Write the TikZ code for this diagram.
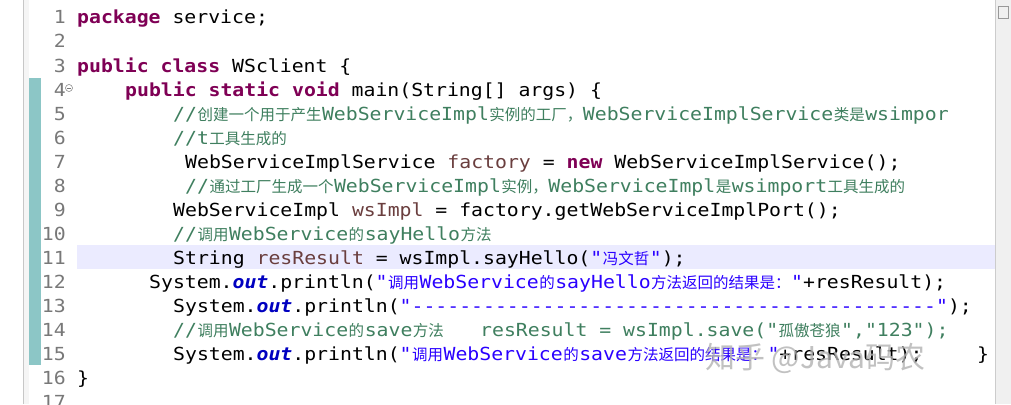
\documentclass[tikz,border=0pt]{standalone}
\usepackage{fontspec}
\usetikzlibrary{calc}
\newfontfamily\code[FakeStretch=1.1]{DejaVu Sans Mono}
\newfontfamily\cjk{Noto Sans CJK SC}
\definecolor{kw}{HTML}{7F0055}
\definecolor{cm}{HTML}{3F7F5F}
\definecolor{st}{HTML}{2A00FF}
\definecolor{fl}{HTML}{0000C0}
\definecolor{vr}{HTML}{6A3E3E}
\definecolor{lnc}{HTML}{787878}
\newcommand\zh[1]{{\cjk\fontsize{15.5}{16}\selectfont\hspace{0.5pt}#1\hspace{0.5pt}}}
\newcommand\kwd[1]{{\bfseries\color{kw}#1}}
\newcommand\cmt[1]{{\color{cm}#1}}
\newcommand\strg[1]{{\color{st}#1}}
\newcommand\fld[1]{{\bfseries\itshape\color{fl}#1}}
\newcommand\vr[1]{{\color{vr}#1}}
\begin{document}
\begin{tikzpicture}[x=1pt,y=-1pt,
  cl/.style={anchor=base west,inner sep=0pt,font=\code\fontsize{18}{20}\selectfont},
  lnum/.style={anchor=base east,inner sep=0pt,text=lnc,font=\code\fontsize{18}{20}\selectfont}]
\useasboundingbox (0,0) rectangle (1011,404);
\fill[white] (0,0) rectangle (1011,404);
% left bits
\draw[color=black!22,line width=1.5pt] (24,0) -- (24,404);
\fill[color=black!4] (24,0) rectangle (29,404);
\fill[color=teal!45] (29,78) rectangle (41,365);
% scrollbar
\fill[color=black!6] (995,0) rectangle (1011,404);
\draw[color=black!20] (995,0) -- (995,404);
\draw[color=black!40] (998,6) rectangle (1008,18);
% highlight line 11
\fill[color=blue!8] (77,245) rectangle (995,269);
% fold marker
\node[draw=lnc,circle,inner sep=0pt,minimum size=7pt,line width=0.5pt] (fold) at (69,88) {};
\draw[lnc,line width=0.6pt] ($(fold.west)+(1.5,0)$) -- ($(fold.east)+(-1.5,0)$);
% line numbers
\foreach \n in {1,...,17}{\node[lnum] (n\n) at (66,{24+24*(\n-1)}) {\n};}
% code
\node[cl] (l1) at (77,24) {\kwd{package} service;};
\node[cl] (l3) at (77,72) {\kwd{public} \kwd{class} WSclient \{};
\node[cl] (l4) at (125,96) {\kwd{public} \kwd{static} \kwd{void} main(String[] args) \{};
\node[cl] (l5) at (173,120) {\cmt{//\zh{创建一个用于产生}WebServiceImpl\zh{实例的工厂，}WebServiceImplService\zh{类是}wsimpor}};
\node[cl] (l6) at (173,144) {\cmt{//t\zh{工具生成的}}};
\node[cl] (l7) at (185,168) {WebServiceImplService \vr{factory} = \kwd{new} WebServiceImplService();};
\node[cl] (l8) at (185,192) {\cmt{//\zh{通过工厂生成一个}WebServiceImpl\zh{实例，}WebServiceImpl\zh{是}wsimport\zh{工具生成的}}};
\node[cl] (l9) at (173,216) {WebServiceImpl \vr{wsImpl} = factory.getWebServiceImplPort();};
\node[cl] (l10) at (173,240) {\cmt{//\zh{调用}WebService\zh{的}sayHello\zh{方法}}};
\node[cl] (l11) at (173,264) {String \vr{resResult} = wsImpl.sayHello(\strg{"\zh{冯文哲}"});};
\node[cl] (l12) at (149,288) {System.\fld{out}.println(\strg{"\zh{调用}WebService\zh{的}sayHello\zh{方法返回的结果是：}"}+resResult);};
\node[cl] (l13) at (173,312) {System.\fld{out}.println(\strg{"\foreach \i in {1,...,44}{-}"});};
\node[cl] (l14) at (173,336) {\cmt{//\zh{调用}WebService\zh{的}save\zh{方法}\ \ \ resResult = wsImpl.save("\zh{孤傲苍狼}","123");}};
\node[cl] (l15) at (173,360) {System.\fld{out}.println(\strg{"\zh{调用}WebService\zh{的}save\zh{方法返回的结果是：}"}+resResult);};
\node[cl] (l15b) at (977,360) {\}};
\node[cl] (l16) at (77,384) {\}};
% watermark
\node[anchor=base west,inner sep=0pt,text=black!30,opacity=0.8,font=\cjk\fontsize{30}{30}\selectfont] (wm) at (705,368) {知乎 @Java码农};
\end{tikzpicture}
\end{document}
